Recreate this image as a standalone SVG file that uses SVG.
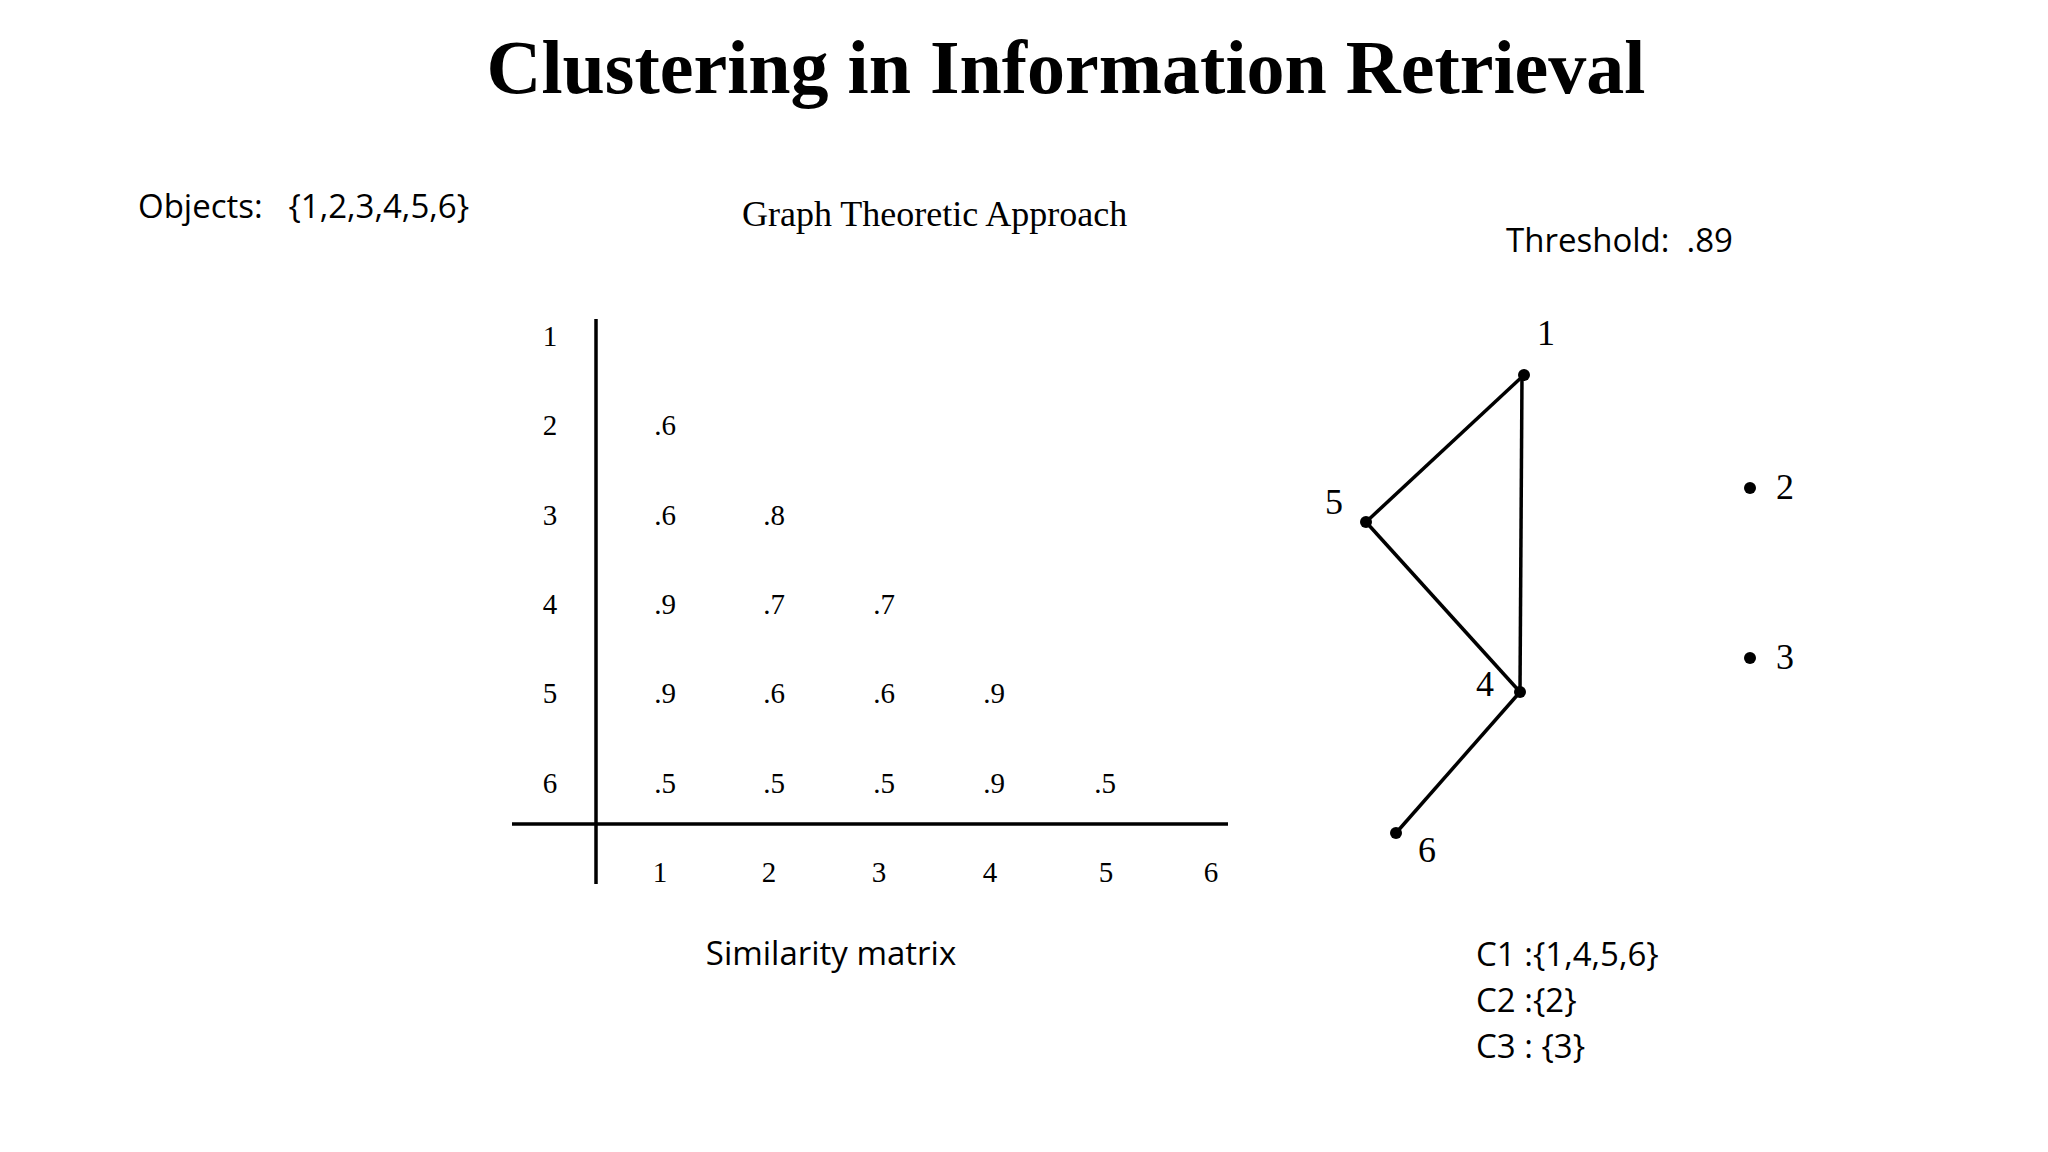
<svg xmlns="http://www.w3.org/2000/svg" width="2048" height="1152" viewBox="0 0 2048 1152">
<style>
.s{font-family:"Liberation Serif",serif;font-size:29px;fill:#000}
.g{font-family:"Liberation Serif",serif;font-size:36px;fill:#000}
.c{font-family:"Open Sans","Liberation Sans",sans-serif;font-size:33px;fill:#000;white-space:pre}
.ln{stroke:#000;stroke-width:3.5;fill:none}
</style>
<rect width="2048" height="1152" fill="#fff"/>
<text x="1066" y="93" text-anchor="middle" font-family="Liberation Serif,serif" font-weight="bold" font-size="76">Clustering in Information Retrieval</text>
<text class="c" x="138" y="218" xml:space="preserve">Objects:   {1,2,3,4,5,6}</text>
<text class="g" x="742" y="226" font-size="37">Graph Theoretic Approach</text>
<text class="c" x="1506" y="252" xml:space="preserve">Threshold:  .89</text>
<g id="matrix">
<line class="ln" x1="596" y1="319" x2="596" y2="884"/>
<line class="ln" x1="512" y1="824" x2="1228" y2="824"/>
<g class="s" text-anchor="middle">
<text x="550" y="346">1</text><text x="550" y="435">2</text><text x="550" y="525">3</text><text x="550" y="614">4</text><text x="550" y="703">5</text><text x="550" y="793">6</text>
<text x="665" y="435">.6</text>
<text x="665" y="525">.6</text><text x="774" y="525">.8</text>
<text x="665" y="614">.9</text><text x="774" y="614">.7</text><text x="884" y="614">.7</text>
<text x="665" y="703">.9</text><text x="774" y="703">.6</text><text x="884" y="703">.6</text><text x="994" y="703">.9</text>
<text x="665" y="793">.5</text><text x="774" y="793">.5</text><text x="884" y="793">.5</text><text x="994" y="793">.9</text><text x="1105" y="793">.5</text>
<text x="660" y="882">1</text><text x="769" y="882">2</text><text x="879" y="882">3</text><text x="990" y="882">4</text><text x="1106" y="882">5</text><text x="1211" y="882">6</text>
</g>
<text class="c" x="831" y="965" text-anchor="middle">Similarity matrix</text>
</g>
<g id="edges">
<line class="ln" x1="1524" y1="375" x2="1366" y2="522"/>
<line class="ln" x1="1522" y1="375" x2="1520" y2="692"/>
<line class="ln" x1="1366" y1="522" x2="1520" y2="692"/>
<line class="ln" x1="1520" y1="692" x2="1396" y2="833"/>
</g>
<g id="n1"><circle cx="1524" cy="375" r="6"/><text class="g" x="1537" y="345">1</text></g>
<g id="n5"><circle cx="1366" cy="522" r="6"/><text class="g" x="1325" y="514">5</text></g>
<g id="n4"><circle cx="1520" cy="692" r="6"/><text class="g" x="1476" y="696">4</text></g>
<g id="n6"><circle cx="1396" cy="833" r="6"/><text class="g" x="1418" y="862">6</text></g>
<g id="n2"><circle cx="1750" cy="488" r="6"/><text class="g" x="1776" y="499">2</text></g>
<g id="n3"><circle cx="1750" cy="658" r="6"/><text class="g" x="1776" y="669">3</text></g>
<text class="c" x="1476" y="966">C1 :{1,4,5,6}</text>
<text class="c" x="1476" y="1012">C2 :{2}</text>
<text class="c" x="1476" y="1058">C3 : {3}</text>
</svg>
